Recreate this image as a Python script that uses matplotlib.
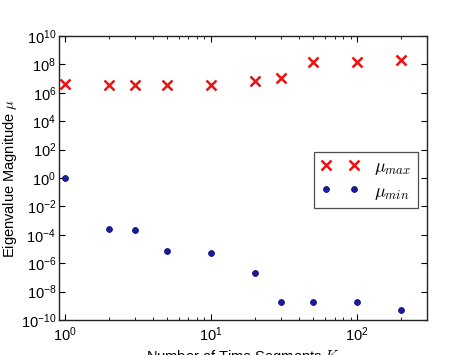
import numpy as np
import matplotlib
matplotlib.use("Agg")
import matplotlib.pyplot as plt
from matplotlib.ticker import LogLocator, FixedLocator, FuncFormatter, NullLocator

plt.rcParams['font.family'] = ['Liberation Sans', 'DejaVu Sans']
plt.rcParams['mathtext.fontset'] = 'cm'

K = [1, 2, 3, 5, 10, 20, 30, 50, 100, 200]
mu_max_log = [6.62, 6.58, 6.58, 6.58, 6.56, 6.83, 7.04, 8.19, 8.17, 8.31]
mu_min_log = [0.02, -3.57, -3.64, -5.12, -5.28, -6.71, -8.71, -8.71, -8.71, -9.30]
mu_max = [10 ** v for v in mu_max_log]
mu_min = [10 ** v for v in mu_min_log]
y_ticks = [-10, -8, -6, -4, -2, 0, 2, 4, 6, 8, 10]

fig = plt.figure(figsize=(4.74, 3.55), dpi=100)
ax = fig.add_axes([0.1245, 0.0986, 0.7763, 0.8000])

ax.plot(K, mu_max, linestyle='none', marker='x', color='#ee1111', markersize=7,
        markeredgewidth=1.8, label=r'$\mu_{max}$')
ax.plot(K, mu_min, linestyle='none', marker='o', color='#1a1aa8', markeredgecolor='#10106a',
        markersize=4.2, markeredgewidth=0.6, label=r'$\mu_{min}$')

ax.set_xscale('log')
ax.set_yscale('log')
ax.set_xlim(0.91, 300)
ax.set_ylim(1e-10, 1e10)

ax.yaxis.set_major_locator(FixedLocator([10.0 ** e for e in y_ticks]))
ax.yaxis.set_minor_locator(NullLocator())

def fmt(v, pos):
    e = int(round(np.log10(v)))
    return r'$\mathregular{10^{%d}}$' % e

ax.yaxis.set_major_formatter(FuncFormatter(fmt))
ax.xaxis.set_major_locator(LogLocator(base=10))
ax.xaxis.set_minor_locator(LogLocator(base=10, subs=np.arange(2, 10)))
ax.xaxis.set_major_formatter(FuncFormatter(fmt))

ax.tick_params(which='both', direction='in', top=True, right=True, labelsize=10.5)
ax.tick_params(axis='y', pad=2)
ax.tick_params(axis='x', pad=4)
ax.tick_params(which='major', length=4, width=0.8)
ax.tick_params(which='minor', length=2, width=0.6)
for s in ax.spines.values():
    s.set_linewidth(1.0)
    s.set_color('#222222')

ax.set_xlabel(r'Number of Time Segments $K$', fontsize=10.5, labelpad=3)
ax.set_ylabel(r'Eigenvalue Magnitude $\mu$', fontsize=10.5)
ax.yaxis.set_label_coords(-0.108, 0.5)

leg = ax.legend(loc='upper left', bbox_to_anchor=(0.668, 0.624), numpoints=2, fontsize=13,
                frameon=True, fancybox=False, edgecolor='#222222', handlelength=2.2,
                borderpad=0.35, labelspacing=0.3, handletextpad=0.8)
leg.get_frame().set_linewidth(0.9)

fig.savefig('out.png', dpi=100)
